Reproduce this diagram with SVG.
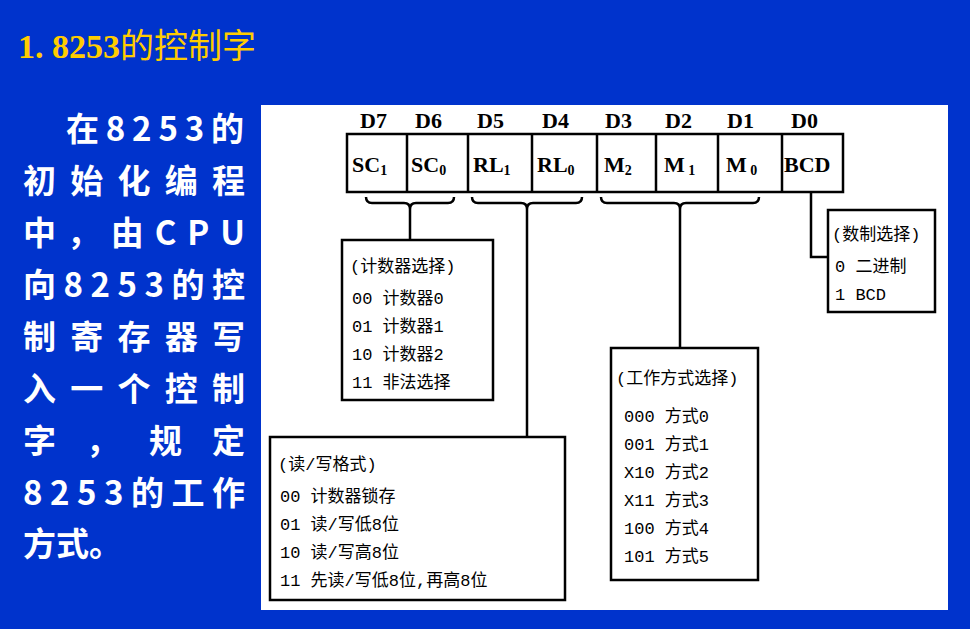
<svg xmlns="http://www.w3.org/2000/svg" width="970" height="629" viewBox="0 0 970 629">
<style>
.t{font-family:"Liberation Serif","Noto Sans CJK SC",serif;font-weight:bold;font-size:22px;fill:#000}
.s{font-size:14px}
.b{font-family:"Liberation Mono","Noto Sans CJK SC",monospace;font-size:17px;fill:#000}
.l{font-family:"Noto Sans CJK SC",sans-serif;font-weight:bold;font-size:33px;fill:#fff}
.box{fill:#fff;stroke:#000;stroke-width:2.5}
.c{fill:none;stroke:#000;stroke-width:2.5}
</style>
<rect width="970" height="629" fill="#0033cc"/>
<text x="18" y="58" font-family="Liberation Serif,Noto Sans CJK SC,serif" font-weight="bold" font-size="34" fill="#ffcc00">1. 8253<tspan font-weight="normal">的控制字</tspan></text>
<g id="lefttext" class="l">
<text x="66" y="141" textLength="178" lengthAdjust="spacing">在8253的</text>
<text x="23" y="193" textLength="222" lengthAdjust="spacing">初始化编程</text>
<text x="23" y="245" textLength="222" lengthAdjust="spacing">中，由CPU</text>
<text x="23" y="297" textLength="222" lengthAdjust="spacing">向8253的控</text>
<text x="23" y="349" textLength="222" lengthAdjust="spacing">制寄存器写</text>
<text x="23" y="401" textLength="222" lengthAdjust="spacing">入一个控制</text>
<text x="23" y="453" textLength="222" lengthAdjust="spacing">字，规定</text>
<text x="23" y="505" textLength="222" lengthAdjust="spacing">8253的工作</text>
<text x="23" y="556">方式。</text>
</g>
<rect x="261" y="105" width="687" height="505" fill="#fff"/>
<g id="register">
<rect x="347" y="134" width="496" height="58" class="box"/>
<path d="M407 134V192M468 134V192M532 134V192M597 134V192M656 134V192M718 134V192M782 134V192" class="c"/>
<g class="t">
<text x="360" y="128">D7</text><text x="415" y="128">D6</text><text x="477" y="128">D5</text><text x="542" y="128">D4</text>
<text x="605" y="128">D3</text><text x="665" y="128">D2</text><text x="727" y="128">D1</text><text x="791" y="128">D0</text>
<text x="352" y="172">SC<tspan class="s" dy="3">1</tspan></text>
<text x="411" y="172">SC<tspan class="s" dy="3">0</tspan></text>
<text x="473" y="172">RL<tspan class="s" dy="3">1</tspan></text>
<text x="537" y="172">RL<tspan class="s" dy="3">0</tspan></text>
<text x="604" y="172">M<tspan class="s" dy="3">2</tspan></text>
<text x="664" y="172">M<tspan class="s" dy="3"> 1</tspan></text>
<text x="726" y="172">M<tspan class="s" dy="3"> 0</tspan></text>
<text x="784" y="172">BCD</text>
</g>
</g>
<g id="connectors" class="c" stroke-width="2">
<path d="M366 197q0 6 6 6h32q6 0 6 6q0-6 6-6h32q6 0 6-6"/>
<path d="M472 197q0 6 6 6h43q6 0 6 6q0-6 6-6h43q6 0 6-6"/>
<path d="M601 197q0 6 6 6h67q6 0 6 6q0-6 6-6h67q6 0 6-6"/>
<path d="M410 209V240M527 209V437M680 209V348M811 192V257H828"/>
</g>
<g id="sc">
<rect x="342" y="240" width="151" height="160" class="box"/>
<g class="b"><text x="350" y="272">(计数器选择)</text><text x="352" y="304">00 计数器0</text><text x="352" y="332">01 计数器1</text><text x="352" y="360">10 计数器2</text><text x="352" y="388">11 非法选择</text></g>
</g>
<g id="rl">
<rect x="270" y="437" width="295" height="163" class="box"/>
<g class="b"><text x="278" y="470">(读/写格式)</text><text x="280" y="502">00 计数器锁存</text><text x="280" y="530">01 读/写低8位</text><text x="280" y="558">10 读/写高8位</text><text x="280" y="586">11 先读/写低8位,再高8位</text></g>
</g>
<g id="m">
<rect x="611" y="348" width="147" height="232" class="box"/>
<g class="b"><text x="616" y="384">(工作方式选择)</text><text x="624" y="422">000 方式0</text><text x="624" y="450">001 方式1</text><text x="624" y="478">X10 方式2</text><text x="624" y="506">X11 方式3</text><text x="624" y="534">100 方式4</text><text x="624" y="562">101 方式5</text></g>
</g>
<g id="bcd">
<rect x="828" y="210" width="107" height="102" class="box"/>
<g class="b"><text x="832" y="240">(数制选择)</text><text x="835" y="272">0 二进制</text><text x="835" y="300">1 BCD</text></g>
</g>
</svg>
